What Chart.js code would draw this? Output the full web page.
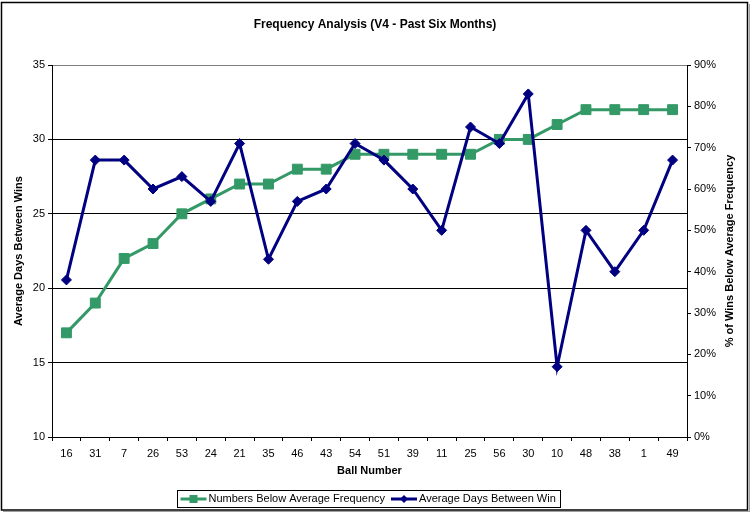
<!DOCTYPE html>
<html lang="en">
<head>
<meta charset="UTF-8">
<title>Frequency Analysis (V4 - Past Six Months)</title>
<script src="https://cdn.jsdelivr.net/npm/chart.js"></script>
<style>
  html, body { margin: 0; padding: 0; background: #fff; }
  #wrap { width: 750px; height: 514px; position: relative; }
</style>
</head>
<body>
<div id="wrap"><canvas id="freqChart" width="750" height="514"></canvas></div>
<script>
// Data
const ballNumbers = ['16', '31', '7', '26', '53', '24', '21', '35', '46', '43', '54',
                     '51', '39', '11', '25', '56', '30', '10', '48', '38', '1', '49'];
const numbersBelowAvg = [17, 19, 22, 23, 25, 26, 27, 27, 28, 28, 29,
                         29, 29, 29, 29, 30, 30, 31, 32, 32, 32, 32];
const avgDaysBetweenWin = [38, 67, 67, 60, 63, 57, 71, 43, 57, 60, 71,
                           67, 60, 50, 75, 71, 83, 17, 50, 40, 50, 67];
const leftAxisTicks = [10, 15, 20, 25, 30, 35];
const rightAxisTicks = [0, 10, 20, 30, 40, 50, 60, 70, 80, 90];

const FONT = "'Liberation Sans', Arial, sans-serif";
const GREEN = '#339966';
const NAVY = '#000080';

// Outer frame, right-hand axis title and boxed legend
const decorations = {
    id: 'decorations',
    beforeDraw(chart) {
        const c = chart.ctx;
        c.save();
        c.fillStyle = '#fff';
        c.fillRect(0, 0, chart.width, chart.height);
        c.restore();
    },
    afterDraw(chart) {
        const c = chart.ctx;
        const area = chart.chartArea;
        c.save();

        // frame
        c.strokeStyle = '#000';
        c.lineWidth = 1.5;
        c.strokeRect(1.5, 2.5, 746, 507.5);
        c.strokeStyle = '#a0a0a0';
        c.lineWidth = 1;
        c.beginPath();
        c.moveTo(3, 511.5); c.lineTo(749, 511.5);
        c.moveTo(749.5, 4); c.lineTo(749.5, 512);
        c.stroke();

        // right axis title, reading bottom to top
        c.fillStyle = '#000';
        c.font = 'bold 11px ' + FONT;
        c.textAlign = 'center';
        c.textBaseline = 'middle';
        c.translate(730, (area.top + area.bottom) / 2);
        c.rotate(-Math.PI / 2);
        c.fillText('% of Wins Below Average Frequency', 0, 0);
        c.setTransform(1, 0, 0, 1, 0, 0);

        // legend
        c.font = '11px ' + FONT;
        c.textAlign = 'left';
        const sets = chart.data.datasets;
        const sample = 26, gap = 2, between = 6, padL = 3, padR = 5;
        const widths = sets.map(d => c.measureText(d.label).width);
        let total = padL + padR;
        widths.forEach((w, i) => { total += sample + gap + w + (i ? between : 0); });
        const cx = 369, top = 490, h = 17;
        let x = Math.round(cx - total / 2) + 0.5;
        c.strokeStyle = '#000';
        c.lineWidth = 1;
        c.strokeRect(x, top + 0.5, Math.round(total), h);
        x += padL;
        const my = top + h / 2 + 0.5;
        sets.forEach((d, i) => {
            if (i) x += between;
            c.strokeStyle = d.borderColor;
            c.lineWidth = 3;
            c.beginPath();
            c.moveTo(x, my); c.lineTo(x + sample, my);
            c.stroke();
            c.fillStyle = d.pointBackgroundColor;
            c.beginPath();
            if (d.pointStyle === 'rect') {
                c.rect(x + sample / 2 - 4, my - 4, 8, 8);
            } else {
                c.moveTo(x + sample / 2 - 4, my);
                c.lineTo(x + sample / 2, my - 4);
                c.lineTo(x + sample / 2 + 4, my);
                c.lineTo(x + sample / 2, my + 4);
                c.closePath();
            }
            c.fill();
            x += sample + gap;
            c.fillStyle = '#000';
            c.fillText(d.label, x, my);
            x += widths[i];
        });
        c.restore();
    }
};

const ctx = document.getElementById('freqChart').getContext('2d');
const chart = new Chart(ctx, {
    type: 'line',
    data: {
        labels: ballNumbers,
        datasets: [
            {
                label: 'Numbers Below Average Frequency',
                data: numbersBelowAvg,
                yAxisID: 'y',
                order: 1,
                borderColor: GREEN,
                backgroundColor: GREEN,
                pointBackgroundColor: GREEN,
                pointBorderColor: GREEN,
                pointStyle: 'rect',
                pointRadius: 7,
                pointBorderWidth: 1,
                borderWidth: 3,
                tension: 0
            },
            {
                label: 'Average Days Between Win',
                data: avgDaysBetweenWin,
                yAxisID: 'y1',
                order: 0,
                borderColor: NAVY,
                backgroundColor: NAVY,
                pointBackgroundColor: NAVY,
                pointBorderColor: NAVY,
                pointStyle: 'rectRot',
                pointRadius: 5,
                pointBorderWidth: 1,
                borderWidth: 3,
                tension: 0
            }
        ]
    },
    options: {
        responsive: false,
        animation: false,
        devicePixelRatio: 1,
        layout: { padding: { top: 0, left: 0, right: 0, bottom: 33 } },
        plugins: {
            legend: { display: false },
            tooltip: { enabled: false },
            title: {
                display: true,
                text: 'Frequency Analysis (V4 - Past Six Months)',
                color: '#000',
                font: { family: FONT, size: 12, weight: 'bold' },
                padding: { top: 17, bottom: 33.6 }
            }
        },
        scales: {
            x: {
                type: 'category',
                offset: true,
                grid: { display: true, drawOnChartArea: false, offset: true, tickLength: 4, color: '#000' },
                border: { display: true, color: '#000', width: 1 },
                ticks: { color: '#000', font: { family: FONT, size: 11 }, padding: 6, maxRotation: 0, autoSkip: false },
                title: {
                    display: true,
                    text: 'Ball Number',
                    color: '#000',
                    font: { family: FONT, size: 11, weight: 'bold' },
                    padding: { top: 0, bottom: 3 }
                },
                afterFit: s => { s.height = 44; }
            },
            y: {
                position: 'left',
                min: leftAxisTicks[0],
                max: leftAxisTicks[leftAxisTicks.length - 1],
                afterBuildTicks: s => { s.ticks = leftAxisTicks.map(v => ({ value: v })); },
                grid: {
                    color: c => (c.tick && c.tick.value === 35 ? '#808080' : '#000'),
                    tickColor: '#000',
                    tickLength: 4,
                    lineWidth: 1
                },
                border: { display: true, color: '#000', width: 1 },
                ticks: { color: '#000', font: { family: FONT, size: 11 }, padding: 3 },
                title: {
                    display: true,
                    text: 'Average Days Between Wins',
                    color: '#000',
                    font: { family: FONT, size: 11, weight: 'bold' },
                    padding: { top: 12, bottom: 0 }
                },
                afterFit: s => { s.width = 52; }
            },
            y1: {
                position: 'right',
                min: rightAxisTicks[0],
                max: rightAxisTicks[rightAxisTicks.length - 1],
                afterBuildTicks: s => { s.ticks = rightAxisTicks.map(v => ({ value: v })); },
                grid: { drawOnChartArea: false, color: '#000', tickLength: 4 },
                border: { display: true, color: '#000', width: 1 },
                ticks: { color: '#000', font: { family: FONT, size: 11 }, padding: 3, callback: v => v + '%' },
                afterFit: s => { s.width = 63; }
            }
        }
    },
    plugins: [decorations]
});
</script>
</body>
</html>
